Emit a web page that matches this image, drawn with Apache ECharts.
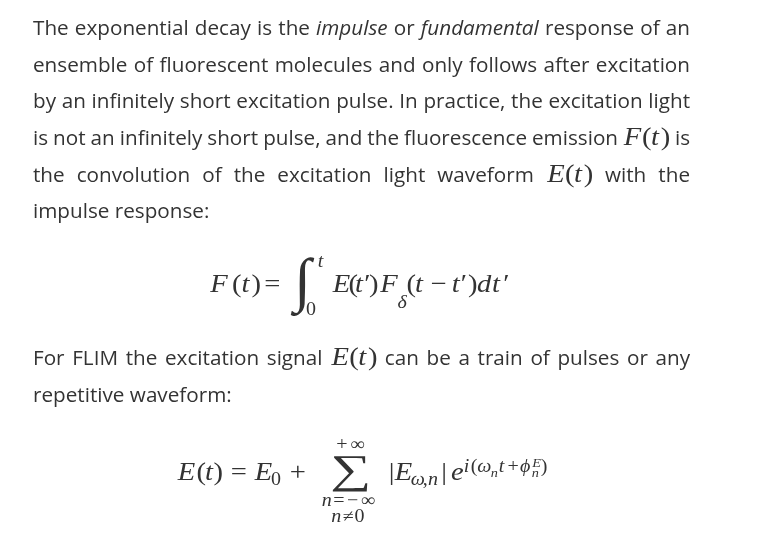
<!DOCTYPE html>
<html><head><meta charset="utf-8">
<script src="https://cdn.jsdelivr.net/npm/echarts@6/dist/echarts.min.js"></script>
<style>html,body{margin:0;padding:0;background:#fff}#c{width:768px;height:545px}</style>
</head><body><div id="c"></div>
<script>
// ---- text content ----
const paragraph1 = [
  'The exponential decay is the *impulse* or *fundamental* response of an',
  'ensemble of fluorescent molecules and only follows after excitation',
  'by an infinitely short excitation pulse. In practice, the excitation light',
  'is not an infinitely short pulse, and the fluorescence emission $F(t)$ is',
  'the convolution of the excitation light waveform $E(t)$ with the',
  'impulse response:'
];
const paragraph2 = [
  'For FLIM the excitation signal $E(t)$ can be a train of pulses or any',
  'repetitive waveform:'
];
const eq1Glyphs = ['F','(','t',')','=','\u222B','t','0','E','(','t','\u2032',')','F','\u03B4','(','t','\u2212','t','\u2032',')','d','t','\u2032'];
const eq2Glyphs = ['E','(','t',')','=','E','0','+','\u2211','+','\u221E','n','=','\u2212','\u221E','n','\u2260','0',
  '|','E','\u03C9',',','n','|','e','i','(','\u03C9','n','t','+','\u03D5','E','n',')'];

// ---- layout (separate from content) ----
const eq1Layout = [
  [219,292,'M','i'],[237,292,'M','r'],[246.5,292,'M','i'],[256,292,'M','r'],[272.5,292,'M','r'],
  [302.5,257,'B','r',316,25],[321,267,'S','i'],[311,315,'S','r'],
  [341,292,'M','i'],[353.5,292,'M','r'],[360,292,'M','i'],[367.5,292,'M','r'],[373.5,292,'M','r'],
  [389,292,'M','i'],[402.5,308,'S','i'],[411.5,292,'M','r'],[420,292,'M','i'],[439,292,'M','r'],
  [456.7,292,'M','i'],[464,292,'M','r'],[472.5,292,'M','r'],[484.7,292,'M','i'],[497,292,'M','i'],[506.5,292,'M','r']
];
const eq2Layout = [
  [186,480,'M','i'],[201.5,480,'M','r'],[210,480,'M','i'],[218,480,'M','r'],[239,480,'M','r'],
  [263,480,'M','i'],[276,485,'S','r'],[298,480,'M','r'],
  [350,456,'B','r',492,36.6],
  [341.8,450,'S','r'],[357.5,450,'S','r'],
  [326.75,506,'S','i'],[338.8,506,'S','r'],[352.4,506,'S','r'],[368,506,'S','r'],
  [336.25,522,'S','i'],[348.3,522,'S','r'],[359.5,522,'S','r'],
  [391.5,480,'M','r'],[403,480,'M','i'],[418,485,'S','i'],[425,485,'S','r'],[433,485,'S','i'],[444,480,'M','r'],
  [457,480,'M','i'],[467,472,'S','i'],[474,472,'S','r'],[484.5,472,'S','i'],[494,477,'SS','i'],
  [502,472,'S','i'],[513,472,'S','r'],[525,472,'S','i'],[536,467,'SS','i'],[535,477,'SS','i'],[544,472,'S','r']
];

const textColor = '#333333';
const bodyFamily = '"Open Sans", "Noto Sans", sans-serif';
const mathFamily = '"Liberation Serif", "DejaVu Serif", serif';
const bodySize = 19.5;
const mathSize = 26;        // glyph size
const mathScaleX = 1.1;     // widen Times-like glyphs toward Computer Modern proportions
const mathAdvSize = 24.4;   // em size used for inline advances
const roleSize = {M: mathSize, S: mathSize * 0.7, SS: mathSize * 0.5};
const leftX = 33, rightX = 690;
const p1Base = [35, 71.7, 108.3, 145, 181.6, 218.3];
const p2Base = [365, 402];
const mathAdv = {F: 0.782, E: 0.79, t: 0.361, '(': 0.389, ')': 0.389};

const cv = document.createElement('canvas');
const ctx = cv.getContext('2d');
function fontStr(italic, size, fam) { return (italic ? 'italic' : 'normal') + ' 400 ' + size + 'px ' + fam; }
function measure(text, font) {
  ctx.font = font; ctx.textAlign = 'left'; ctx.textBaseline = 'alphabetic';
  return ctx.measureText(text);
}
const midCache = {};
function midOff(font) {
  if (midCache[font] != null) return midCache[font];
  ctx.font = font; ctx.textAlign = 'left';
  ctx.textBaseline = 'alphabetic';
  const a = ctx.measureText('H').actualBoundingBoxAscent;
  ctx.textBaseline = 'middle';
  const b = ctx.measureText('H').actualBoundingBoxAscent;
  midCache[font] = a - b;
  return a - b;
}
const elements = [];
function addText(s, x, baseline, font, sx) {
  elements.push({
    type: 'text', x: x, y: baseline - midOff(font), scaleX: sx || 1, silent: true,
    style: {text: s, x: 0, y: 0, font: font, fill: textColor,
      textAlign: 'left', textVerticalAlign: 'middle', align: 'left', verticalAlign: 'middle'}
  });
}
function addCentered(s, cx, baseline, font, sx) {
  const m = measure(s, font);
  const s2 = sx || 1;
  const x = cx - s2 * (m.actualBoundingBoxRight - m.actualBoundingBoxLeft) / 2;
  addText(s, x, baseline, font, s2);
}
function addBig(s, cx, top, bottom, width) {
  const f100 = fontStr(false, 100, mathFamily);
  const m = measure(s, f100);
  const h = m.actualBoundingBoxAscent + m.actualBoundingBoxDescent;
  const size = (bottom - top) / h * 100;
  const font = fontStr(false, size, mathFamily);
  const m2 = measure(s, font);
  const inkW = m2.actualBoundingBoxRight + m2.actualBoundingBoxLeft;
  const sx = width / inkW;
  const baseline = top + m2.actualBoundingBoxAscent;
  addCentered(s, cx, baseline, font, sx);
}

// ---- paragraph tokenizer ----
const bodyFont = fontStr(false, bodySize, bodyFamily);
const bodyItalic = fontStr(true, bodySize, bodyFamily);
const mathIt = fontStr(true, mathSize, mathFamily);
const mathRm = fontStr(false, mathSize, mathFamily);
function parseTok(tok) {
  if (tok[0] === '$') {
    const inner = tok.slice(1, -1);
    const glyphs = inner.split('').map(c => ({t: c, it: /[A-Za-z]/.test(c), adv: mathAdv[c] * mathAdvSize}));
    return {kind: 'm', glyphs: glyphs, w: glyphs.reduce((a, g) => a + g.adv, 0)};
  }
  if (tok[0] === '*') {
    const t = tok.replace(/\*/g, '');
    return {kind: 'w', text: t, font: bodyItalic, w: measure(t, bodyItalic).width};
  }
  return {kind: 'w', text: tok, font: bodyFont, w: measure(tok, bodyFont).width};
}
const allLines = [];
paragraph1.forEach((l, i) => allLines.push({toks: l.split(' ').map(parseTok), base: p1Base[i], justify: i < paragraph1.length - 1}));
paragraph2.forEach((l, i) => allLines.push({toks: l.split(' ').map(parseTok), base: p2Base[i], justify: i < paragraph2.length - 1}));

const W = rightX - leftX;
const minGap = 5;
const spaceW = measure(' ', bodyFont).width;
let scale = 10;
allLines.forEach(L => {
  if (!L.justify) return;
  let wordsW = 0, mathW = 0;
  L.toks.forEach(t => { if (t.kind === 'w') wordsW += t.w; else mathW += t.w; });
  const s = (W - minGap * (L.toks.length - 1) - mathW) / wordsW;
  scale = Math.min(scale, s);
});
scale = Math.max(0.85, Math.min(1.1, scale));

allLines.forEach(L => {
  const ws = L.toks.map(t => t.kind === 'w' ? t.w * scale : t.w);
  const total = ws.reduce((a, b) => a + b, 0);
  const gap = L.justify ? (W - total) / (L.toks.length - 1) : spaceW * scale;
  let x = leftX;
  L.toks.forEach((t, i) => {
    if (t.kind === 'w') {
      addText(t.text, x, L.base, t.font, scale);
    } else {
      let gx = x;
      t.glyphs.forEach(g => {
        addCentered(g.t, gx + g.adv / 2, L.base, g.it ? mathIt : mathRm, mathScaleX);
        gx += g.adv;
      });
    }
    x += ws[i] + gap;
  });
});

// ---- display equations ----
function drawEq(glyphs, layout) {
  glyphs.forEach((g, i) => {
    const L = layout[i];
    if (L[2] === 'B') { addBig(g, L[0], L[1], L[4], L[5]); return; }
    const font = fontStr(L[3] === 'i', roleSize[L[2]], mathFamily);
    addCentered(g, L[0], L[1], font, mathScaleX);
  });
}
drawEq(eq1Glyphs, eq1Layout);
drawEq(eq2Glyphs, eq2Layout);

const chart = echarts.init(document.getElementById('c'), null, {renderer: 'canvas'});
chart.setOption({animation: false, backgroundColor: '#ffffff', graphic: {elements: elements}});
</script>
</body></html>
